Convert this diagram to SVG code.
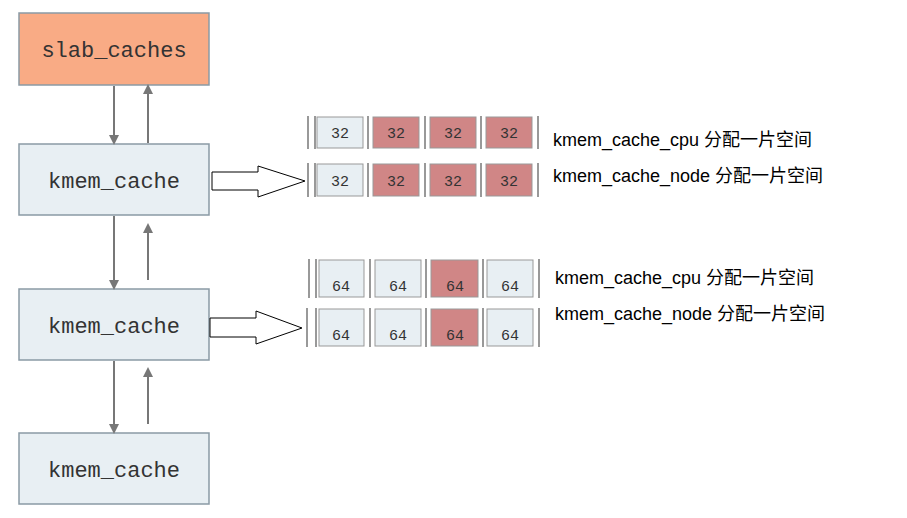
<svg xmlns="http://www.w3.org/2000/svg" width="907" height="518" viewBox="0 0 907 518">
<style>
.box{fill:#e8eff3;stroke:#8a9aa5;stroke-width:1.5}
.top{fill:#f9ab85;stroke:#8a9aa5;stroke-width:1.5}
.bt{font-family:"Liberation Mono",monospace;font-size:22px;fill:#333;text-anchor:middle}
.c{fill:#e8eff3;stroke:#999;stroke-width:1}
.r{fill:#d08686;stroke:#999;stroke-width:1}
.strip{fill:#fff;stroke:none}
.div{stroke:#999;stroke-width:2}
.n{font-family:"Liberation Mono",monospace;font-size:15px;fill:#333;text-anchor:middle}
.lbl{font-family:"Liberation Sans","Noto Sans CJK SC",sans-serif;font-size:18px;fill:#000}
.ln{stroke:#777;stroke-width:2;fill:none}
.blk{fill:#fff;stroke:#000;stroke-width:1}
</style>
<defs><marker id="ah" markerWidth="10" markerHeight="10" refX="8" refY="5" orient="auto" markerUnits="userSpaceOnUse"><path d="M0,0 L10,5 L0,10 z" fill="#777"/></marker></defs>
<g id="slab_caches"><rect class="top" x="19" y="13" width="190" height="72"/><text class="bt" x="114" y="57">slab_caches</text></g>
<g id="kc1"><rect class="box" x="19" y="144" width="190" height="71"/><text class="bt" x="114" y="188">kmem_cache</text></g>
<g id="kc2"><rect class="box" x="19" y="289" width="190" height="71"/><text class="bt" x="114" y="333">kmem_cache</text></g>
<g id="kc3"><rect class="box" x="19" y="433" width="190" height="71"/><text class="bt" x="114" y="477">kmem_cache</text></g>
<g id="connectors">
<line class="ln" x1="114" y1="86" x2="114" y2="143" marker-end="url(#ah)"/>
<line class="ln" x1="148" y1="143" x2="148" y2="86" marker-end="url(#ah)"/>
<line class="ln" x1="114" y1="216" x2="114" y2="288" marker-end="url(#ah)"/>
<line class="ln" x1="148" y1="280" x2="148" y2="225" marker-end="url(#ah)"/>
<line class="ln" x1="114" y1="361" x2="114" y2="432" marker-end="url(#ah)"/>
<line class="ln" x1="148" y1="424" x2="148" y2="369" marker-end="url(#ah)"/>
<path class="blk" d="M212,172 H258 V166 L305,181 L258,197 V190 H212 Z"/>
<path class="blk" d="M210,318 H256 V311 L302,328 L256,344 V337 H210 Z"/>
</g>
<g id="row32a">
<line class="div" x1="308" y1="116" x2="308" y2="149"/><line class="div" x1="315" y1="116" x2="315" y2="149"/>
<rect class="c" x="317" y="117" width="46" height="31"/><text class="n" x="340" y="138">32</text>
<line class="div" x1="368" y1="116" x2="368" y2="149"/>
<rect class="r" x="373" y="117" width="46" height="31"/><text class="n" x="396" y="138">32</text>
<line class="div" x1="425" y1="116" x2="425" y2="149"/>
<rect class="r" x="430" y="117" width="46" height="31"/><text class="n" x="453" y="138">32</text>
<line class="div" x1="481" y1="116" x2="481" y2="149"/>
<rect class="r" x="486" y="117" width="46" height="31"/><text class="n" x="509" y="138">32</text>
<line class="div" x1="538" y1="116" x2="538" y2="149"/>
</g>
<g id="row32b">
<line class="div" x1="308" y1="163" x2="308" y2="197"/><line class="div" x1="315" y1="163" x2="315" y2="197"/>
<rect class="c" x="317" y="164" width="46" height="32"/><text class="n" x="340" y="186">32</text>
<line class="div" x1="368" y1="163" x2="368" y2="197"/>
<rect class="r" x="373" y="164" width="46" height="32"/><text class="n" x="396" y="186">32</text>
<line class="div" x1="425" y1="163" x2="425" y2="197"/>
<rect class="r" x="430" y="164" width="46" height="32"/><text class="n" x="453" y="186">32</text>
<line class="div" x1="481" y1="163" x2="481" y2="197"/>
<rect class="r" x="486" y="164" width="46" height="32"/><text class="n" x="509" y="186">32</text>
<line class="div" x1="538" y1="163" x2="538" y2="197"/>
</g>
<g id="row64a">
<line class="div" x1="309" y1="259" x2="309" y2="298"/><line class="div" x1="316" y1="259" x2="316" y2="298"/>
<rect class="c" x="319" y="260" width="45" height="37"/><text class="n" x="341" y="291">64</text>
<line class="div" x1="370" y1="259" x2="370" y2="298"/>
<rect class="c" x="375" y="260" width="46" height="37"/><text class="n" x="398" y="291">64</text>
<line class="div" x1="426" y1="259" x2="426" y2="298"/>
<rect class="r" x="431" y="260" width="47" height="37"/><text class="n" x="455" y="291">64</text>
<line class="div" x1="483" y1="259" x2="483" y2="298"/>
<rect class="c" x="487" y="260" width="46" height="37"/><text class="n" x="510" y="291">64</text>
<line class="div" x1="539" y1="259" x2="539" y2="298"/>
</g>
<g id="row64b">
<line class="div" x1="307" y1="308" x2="307" y2="347"/><line class="div" x1="316" y1="308" x2="316" y2="347"/>
<rect class="c" x="319" y="309" width="45" height="37"/><text class="n" x="341" y="340">64</text>
<line class="div" x1="370" y1="308" x2="370" y2="347"/>
<rect class="c" x="375" y="309" width="46" height="37"/><text class="n" x="398" y="340">64</text>
<line class="div" x1="426" y1="308" x2="426" y2="347"/>
<rect class="r" x="431" y="309" width="47" height="37"/><text class="n" x="455" y="340">64</text>
<line class="div" x1="483" y1="308" x2="483" y2="347"/>
<rect class="c" x="487" y="309" width="46" height="37"/><text class="n" x="510" y="340">64</text>
<line class="div" x1="539" y1="308" x2="539" y2="347"/>
</g>
<g id="labels">
<text class="lbl" x="553" y="146">kmem_cache_cpu 分配一片空间</text>
<text class="lbl" x="553" y="182">kmem_cache_node 分配一片空间</text>
<text class="lbl" x="555" y="284">kmem_cache_cpu 分配一片空间</text>
<text class="lbl" x="555" y="320">kmem_cache_node 分配一片空间</text>
</g>
</svg>
